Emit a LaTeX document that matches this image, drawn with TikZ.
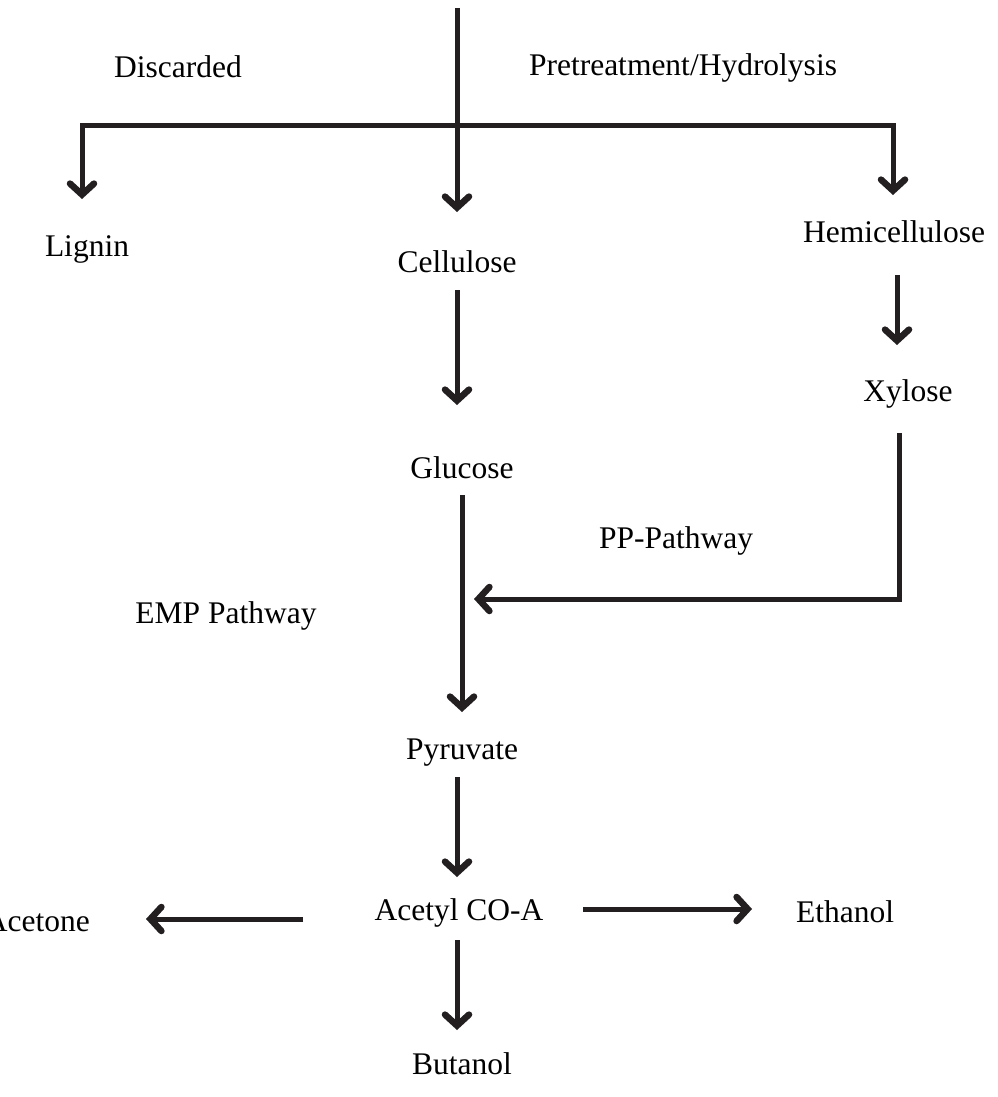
\documentclass[tikz,border=0pt]{standalone}
\usepackage{fontspec}
\setmainfont{Liberation Serif}
\usetikzlibrary{arrows.meta}
\begin{document}
\begin{tikzpicture}[x=1pt,y=-1pt,
  lbl/.style={inner sep=0pt,font=\fontsize{31.5}{37}\selectfont},
  conn/.style={line width=5pt,draw={rgb,255:red,35;green,31;blue,32}},
  arr/.style={conn,-{Straight Barb[length=11pt,width=24pt,line width=6.5pt,line cap=round,line join=miter]}}]
\useasboundingbox[fill=white] (0,0) rectangle (997,1097);
% labels
\node[lbl] (disc) at (178,67) {Discarded};
\node[lbl] (pret) at (683,68) {Pretreatment/Hydrolysis};
\node[lbl] (lig) at (87,249) {Lignin};
\node[lbl] (cel) at (457,262) {Cellulose};
\node[lbl] (hem) at (894,232) {Hemicellulose};
\node[lbl] (xyl) at (908,394) {Xylose};
\node[lbl] (glu) at (462,468) {Glucose};
\node[lbl] (pp) at (676,541) {PP-Pathway};
\node[lbl] (emp) at (226,616) {EMP Pathway};
\node[lbl] (pyr) at (462,753) {Pyruvate};
\node[lbl] (acc) at (459,913) {Acetyl CO-A};
\node[lbl,anchor=east] (ace) at (90,921) {Acetone};
\node[lbl] (eth) at (845,912) {Ethanol};
\node[lbl] (but) at (462,1064) {Butanol};
% coordinates
\coordinate (top) at (457,8);
\coordinate (hl) at (82,126);
\coordinate (hr) at (893,126);
\coordinate (celT) at (457,212);
\coordinate (ligT) at (82,199);
\coordinate (hemT) at (893,195);
\coordinate (celS) at (457,290);
\coordinate (gluT) at (457,405);
\coordinate (hemS) at (897,275);
\coordinate (xylT) at (897,345);
\coordinate (gluS) at (462,495);
\coordinate (pyrT) at (462,712);
\coordinate (xylS) at (899,433);
\coordinate (xylC) at (899,599);
\coordinate (ppT) at (474,599);
\coordinate (pyrS) at (457,777);
\coordinate (accT) at (457,877);
\coordinate (accL) at (303,919);
\coordinate (aceT) at (146,919);
\coordinate (accR) at (583,909);
\coordinate (ethT) at (752,909);
\coordinate (accS) at (457,940);
\coordinate (butT) at (457,1030);
% connectors
\draw[arr] (top) -- (celT);
\draw[arr] (hr) -- (hl) -- (ligT);
\draw[arr] (hl) -- (hr) -- (hemT);
\draw[arr] (celS) -- (gluT);
\draw[arr] (hemS) -- (xylT);
\draw[arr] (gluS) -- (pyrT);
\draw[arr] (xylS) -- (xylC) -- (ppT);
\draw[arr] (pyrS) -- (accT);
\draw[arr] (accL) -- (aceT);
\draw[arr] (accR) -- (ethT);
\draw[arr] (accS) -- (butT);
\end{tikzpicture}
\end{document}
